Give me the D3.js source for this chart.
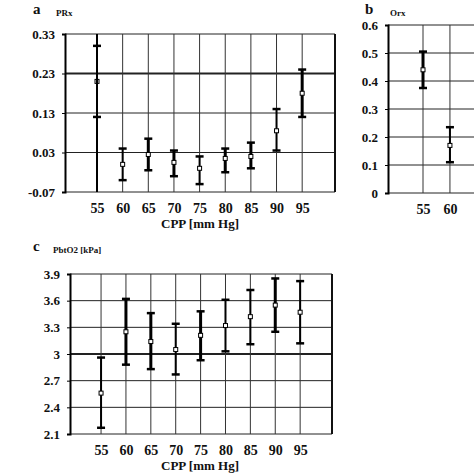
<!DOCTYPE html>
<html><head><meta charset="utf-8">
<script src="https://cdn.jsdelivr.net/npm/d3@7"></script>
<style>body{margin:0;background:#fff}svg text{font-family:"Liberation Serif","DejaVu Serif",serif !important;fill:#111}</style>
</head><body><svg width="474" height="474" font-family="Liberation Serif"></svg>
<script>
// categories
var cpp = [55, 60, 65, 70, 75, 80, 85, 90, 95];
// PRx panel
var prxTicks = [-0.07, 0.03, 0.13, 0.23, 0.33];
var prxMean = [0.21, 0.0, 0.025, 0.005, -0.01, 0.015, 0.02, 0.085, 0.18];
var prxLo = [0.12, -0.04, -0.015, -0.03, -0.05, -0.02, -0.01, 0.035, 0.12];
var prxHi = [0.30, 0.04, 0.065, 0.035, 0.02, 0.04, 0.055, 0.14, 0.24];
// Orx panel (cut off)
var orxCpp = [55, 60];
var orxTicks = [0, 0.1, 0.2, 0.3, 0.4, 0.5, 0.6];
var orxMean = [0.44, 0.17];
var orxLo = [0.375, 0.11];
var orxHi = [0.505, 0.235];
// PbtO2 panel
var pbtTicks = [2.1, 2.4, 2.7, 3, 3.3, 3.6, 3.9];
var pbtMean = [2.56, 3.25, 3.14, 3.05, 3.21, 3.32, 3.42, 3.55, 3.47];
var pbtLo = [2.17, 2.88, 2.83, 2.77, 2.93, 3.03, 3.11, 3.25, 3.12];
var pbtHi = [2.96, 3.62, 3.46, 3.34, 3.48, 3.61, 3.72, 3.85, 3.82];

var svg = d3.select('svg');
var serif = 'Liberation Serif';

function panel(o) {
    var g = svg.append('g');
    var x = d3.scaleLinear().domain(o.xdom).range([o.x0, o.x1]);
    var y = d3.scaleLinear().domain([o.ticks[0], o.ticks[o.ticks.length - 1]]).range([o.y1, o.y0]);
    // grid
    g.selectAll('.hg').data(o.ticks).enter().append('line')
        .attr('x1', o.x0).attr('x2', o.x1).attr('y1', y).attr('y2', y)
        .attr('stroke', '#222').attr('stroke-width', function (d) { return d === o.bold ? 2 : 1; });
    g.selectAll('.vg').data(o.cats).enter().append('line')
        .attr('x1', x).attr('x2', x).attr('y1', o.y0).attr('y2', o.y1)
        .attr('stroke', '#333').attr('stroke-width', 1);
    // axes
    var ya = d3.axisLeft(y).tickValues(o.ticks).tickSize(3).tickFormat(function (d) { return d; });
    g.append('g').attr('transform', 'translate(' + o.x0 + ',0)').call(ya)
        .attr('font-family', serif)
        .call(function (s) {
            s.select('.domain').attr('stroke-width', 2);
            s.selectAll('text').attr('font-size', 13).attr('font-weight', 'bold').attr('dx', -4);
        });
    var xa = d3.axisBottom(x).tickValues(o.cats).tickSize(0);
    g.append('g').attr('transform', 'translate(0,' + o.y1 + ')').call(xa)
        .attr('font-family', serif)
        .call(function (s) {
            s.select('.domain').remove();
            s.selectAll('text').attr('font-size', 14).attr('font-weight', 'bold').attr('dy', 18);
        });
    if (o.x1 < 474) {
        g.append('line').attr('x1', o.x1).attr('x2', o.x1).attr('y1', o.y0).attr('y2', o.y1)
            .attr('stroke', '#111').attr('stroke-width', 2);
    }
    // error bars
    o.cats.forEach(function (c, i) {
        var cx = x(c);
        var w = o.thick[i] ? 3 : 2;
        g.append('line').attr('x1', cx).attr('x2', cx).attr('y1', y(o.lo[i])).attr('y2', y(o.hi[i]))
            .attr('stroke', '#000').attr('stroke-width', w);
        [o.lo[i], o.hi[i]].forEach(function (v) {
            g.append('line').attr('x1', cx - 4).attr('x2', cx + 4).attr('y1', y(v)).attr('y2', y(v))
                .attr('stroke', '#000').attr('stroke-width', 2.5);
        });
        g.append('rect').attr('x', cx - 2).attr('y', y(o.mean[i]) - 2).attr('width', 4).attr('height', 4)
            .attr('fill', '#fff').attr('stroke', '#000').attr('stroke-width', 1);
    });
    g.append('text').attr('x', o.lx).attr('y', o.ly).attr('font-size', 15).attr('font-weight', 'bold').text(o.letter);
    g.append('text').attr('x', o.tx).attr('y', o.ly + 2).attr('font-size', 9).attr('font-weight', 'bold').text(o.title);
    if (o.xlabel) {
        g.append('text').attr('x', 200).attr('y', o.y1 + 36).attr('text-anchor', 'middle')
            .attr('font-size', 13).attr('font-weight', 'bold').text('CPP [mm Hg]');
    }
    return { x: x, y: y, g: g };
}

var a = panel({ cats: cpp, xdom: [48.76, 101.4], x0: 65, x1: 335, y0: 34, y1: 192, ticks: prxTicks, bold: 0.23,
    mean: prxMean, lo: prxLo, hi: prxHi, thick: [0, 0, 1, 1, 0, 1, 1, 0, 1],
    letter: 'a', title: 'PRx', lx: 33, ly: 14, tx: 56, xlabel: true });
// full-height line at CPP 55
a.g.append('line').attr('x1', a.x(55)).attr('x2', a.x(55)).attr('y1', a.y(0.33)).attr('y2', a.y(-0.07))
    .attr('stroke', '#000').attr('stroke-width', 2);

panel({ cats: orxCpp, xdom: [48.5, 99], x0: 388, x1: 660, y0: 25, y1: 193, ticks: orxTicks, bold: null,
    mean: orxMean, lo: orxLo, hi: orxHi, thick: [1, 0],
    letter: 'b', title: 'Orx', lx: 365, ly: 14, tx: 390, xlabel: false });

panel({ cats: cpp, xdom: [48.76, 101.4], x0: 70, x1: 332, y0: 274, y1: 434, ticks: pbtTicks, bold: 3,
    mean: pbtMean, lo: pbtLo, hi: pbtHi, thick: [0, 1, 1, 0, 1, 0, 0, 1, 0],
    letter: 'c', title: 'PbtO2 [kPa]', lx: 33, ly: 251, tx: 53, xlabel: true });
</script></body></html>
